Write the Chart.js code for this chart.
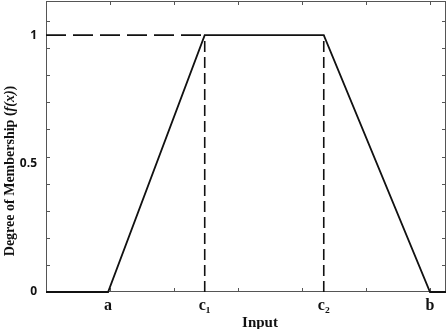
<!DOCTYPE html>
<html>
<head>
<meta charset="utf-8">
<script src="https://cdn.jsdelivr.net/npm/chart.js@4/dist/chart.umd.min.js"></script>
<style>
  html, body { margin: 0; padding: 0; background: #fff; }
  #wrap { width: 448px; height: 329px; }
</style>
</head>
<body>
<div id="wrap"><canvas id="mfChart"></canvas></div>
<script>
// trapezoid membership function, x in tick units
const inputX = [0, 0.97, 2.48, 4.34, 6.0, 6.25];
const membership = [0, 0, 1, 1, 0, 0];

// named points on the input axis
const pointNames = ['a', 'c\u2081', 'c\u2082', 'b'];
const pointX = [0.97, 2.48, 4.34, 6.0];

// y tick labels
const yLabelValues = [0, 0.5, 1];

// small tick marks drawn inside the frame
const xMinorTicks = [1, 2, 3, 4, 5, 6];
const yMinorTicks = [0.1055, 0.211, 0.3165, 0.422, 0.5275, 0.633, 0.7385, 0.844, 0.9495, 1.055];

const c1 = pointX[1], c2 = pointX[2];

const framePlugin = {
    id: 'frame',
    beforeDatasetsDraw(chart) {
        const { ctx, chartArea: area, scales } = chart;
        ctx.save();
        ctx.strokeStyle = '#555';
        ctx.lineWidth = 1;
        ctx.strokeRect(area.left + 0.5, area.top + 0.5, area.width - 1, area.height - 1);
        ctx.beginPath();
        xMinorTicks.forEach(v => {
            const px = Math.round(scales.x.getPixelForValue(v)) + 0.5;
            ctx.moveTo(px, area.bottom); ctx.lineTo(px, area.bottom - 4);
            ctx.moveTo(px, area.top); ctx.lineTo(px, area.top + 4);
        });
        yMinorTicks.forEach(v => {
            const py = Math.round(scales.y.getPixelForValue(v)) + 0.5;
            ctx.moveTo(area.left, py); ctx.lineTo(area.left + 4, py);
            ctx.moveTo(area.right, py); ctx.lineTo(area.right - 4, py);
        });
        ctx.stroke();
        ctx.restore();
    },
    afterDatasetsDraw(chart) {
        const { ctx } = chart;
        ctx.save();
        // axis titles
        ctx.fillStyle = '#111';
        ctx.textBaseline = 'alphabetic';
        ctx.font = 'bold 15px "Liberation Serif"';
        ctx.textAlign = 'center';
        ctx.fillText('Input', 260, 327);

        ctx.translate(14, 171);
        ctx.rotate(-Math.PI / 2);
        const parts = [
            ['Degree of Membership (', 'bold 14px "Liberation Serif"'],
            ['f(x)', 'bold italic 14px "Liberation Serif"'],
            [')', 'bold 14px "Liberation Serif"']
        ];
        let total = 0;
        parts.forEach(p => { ctx.font = p[1]; total += ctx.measureText(p[0]).width; });
        let x = -total / 2;
        ctx.textAlign = 'left';
        parts.forEach(p => {
            ctx.font = p[1];
            ctx.fillText(p[0], x, 0);
            x += ctx.measureText(p[0]).width;
        });
        ctx.restore();
    }
};

const line = (data, dash) => ({
    data: data,
    showLine: true,
    borderColor: '#111',
    borderWidth: dash ? 1.6 : 1.8,
    borderDash: dash || [],
    pointRadius: 0,
    fill: false,
    tension: 0,
    clip: 3
});

const ctx = document.getElementById('mfChart').getContext('2d');
const mfChart = new Chart(ctx, {
    type: 'scatter',
    data: {
        datasets: [
            line(inputX.map((x, i) => ({ x: x, y: membership[i] }))),
            line([{ x: 0, y: 1 }, { x: c1, y: 1 }], [20, 7]),
            line([{ x: c1, y: 0 }, { x: c1, y: 1 }], [11, 5]),
            line([{ x: c2, y: 0 }, { x: c2, y: 1 }], [11, 5])
        ]
    },
    options: {
        responsive: true,
        maintainAspectRatio: false,
        animation: false,
        layout: { padding: { top: 1, right: 2, left: 0, bottom: 0 } },
        plugins: { legend: { display: false }, tooltip: { enabled: false } },
        scales: {
            x: {
                type: 'linear',
                min: 0,
                max: 6.25,
                grid: { display: false, drawTicks: false },
                border: { display: false },
                afterFit: s => { s.height = 37; s.paddingLeft = 0; s.paddingRight = 0; },
                afterBuildTicks: s => { s.ticks = pointX.map(v => ({ value: v })); },
                ticks: {
                    padding: 4,
                    color: '#111',
                    font: { family: 'Liberation Serif', weight: 'bold', size: 16 },
                    callback: (v, i) => pointNames[i]
                }
            },
            y: {
                min: 0,
                max: 1.133,
                grid: { display: false, drawTicks: false },
                border: { display: false },
                afterFit: s => { s.width = 46; s.paddingTop = 0; s.paddingBottom = 0; },
                afterBuildTicks: s => { s.ticks = yLabelValues.map(v => ({ value: v })); },
                ticks: {
                    padding: 9,
                    color: '#111',
                    font: { family: 'Open Sans', weight: 'bold', size: 12 },
                    callback: v => String(v)
                }
            }
        }
    },
    plugins: [framePlugin]
});
</script>
</body>
</html>
